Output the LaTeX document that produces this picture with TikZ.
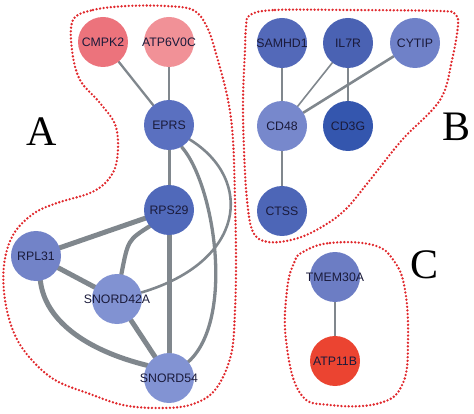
\documentclass[tikz,border=0pt]{standalone}
\usepackage{fontspec}
\setmainfont{Liberation Sans}
\newfontfamily\serifA{Liberation Serif}
\pgfdeclarelayer{bg}
\pgfsetlayers{bg,main}
\newcommand\gn[1]{\makebox[0pt][c]{#1}}
\definecolor{txt}{HTML}{1A1A3A}
\definecolor{edge}{HTML}{80878D}
\definecolor{dotred}{HTML}{E0282C}
\definecolor{cCMPK}{HTML}{EC737C}
\definecolor{cATPsix}{HTML}{F19197}
\definecolor{cEPRS}{HTML}{5A70C0}
\definecolor{cRPS}{HTML}{5069BA}
\definecolor{cRPL}{HTML}{7283C8}
\definecolor{cSNa}{HTML}{8192D2}
\definecolor{cSNb}{HTML}{8293D3}
\definecolor{cSAM}{HTML}{5369B9}
\definecolor{cIL}{HTML}{4A62B3}
\definecolor{cCYT}{HTML}{6F81C8}
\definecolor{cCD}{HTML}{7788CC}
\definecolor{cCDG}{HTML}{3456AE}
\definecolor{cCTS}{HTML}{4D66B7}
\definecolor{cTME}{HTML}{6C7DC4}
\definecolor{cATPb}{HTML}{EB4431}
\begin{document}
\begin{tikzpicture}[x=1pt,y=-1pt,
  gene/.style={circle,minimum size=50pt,inner sep=0pt,font=\fontsize{12.3}{14}\selectfont,text=txt},
  lnk/.style={draw=edge,line cap=round},
  zone/.style={draw=dotred,line width=2.6pt,line cap=round,dash pattern=on 0pt off 3.6pt},
  letter/.style={font=\serifA\fontsize{42}{42}\selectfont,text=black}]
\useasboundingbox (0,0) rectangle (474,414);
% nodes
\node[gene,fill=cCMPK] (cmpk) at (103,42) {\gn{CMPK2}};
\node[gene,fill=cATPsix] (atpsix) at (169,42) {\gn{ATP6V0C}};
\node[gene,fill=cEPRS] (eprs) at (169,125) {\gn{EPRS}};
\node[gene,fill=cRPS] (rps) at (169,210) {\gn{RPS29}};
\node[gene,fill=cRPL] (rpl) at (36,256) {\gn{RPL31}};
\node[gene,fill=cSNa] (sna) at (117,299) {\gn{SNORD42A}};
\node[gene,fill=cSNb] (snb) at (169,378) {\gn{SNORD54}};
\node[gene,fill=cSAM] (sam) at (282,43) {\gn{SAMHD1}};
\node[gene,fill=cIL] (il) at (348,43) {\gn{IL7R}};
\node[gene,fill=cCYT] (cyt) at (415,43) {\gn{CYTIP}};
\node[gene,fill=cCD] (cd) at (282,126) {\gn{CD48}};
\node[gene,fill=cCDG] (cdg) at (348,126) {\gn{CD3G}};
\node[gene,fill=cCTS] (cts) at (282,211) {\gn{CTSS}};
\node[gene,fill=cTME] (tme) at (335,277) {\gn{TMEM30A}};
\node[gene,fill=cATPb] (atpb) at (335,361) {\gn{ATP11B}};
% letters
\node[letter] (la) at (42,132) {A};
\node[letter] (lb) at (457,127) {B};
\node[letter] (lc) at (425,265) {C};
\begin{pgfonlayer}{bg}
% module A edges
\draw[lnk,line width=2.3pt] (cmpk) -- (eprs);
\draw[lnk,line width=2.3pt] (atpsix) -- (eprs);
\draw[lnk,line width=3pt] (eprs) -- (rps);
\draw[lnk,line width=3.3pt] (eprs.-60) .. controls (215,185) and (235,320) .. (snb.40);
\draw[lnk,line width=2.6pt] (eprs.-35) .. controls (255,180) and (245,262) .. (sna.15);
\draw[lnk,line width=5pt] (rps) -- (rpl);
\draw[lnk,line width=5pt] (rps) -- (snb);
\draw[lnk,line width=4.2pt] (rps.-140) .. controls (128,240) .. (sna.80);
\draw[lnk,line width=5pt] (rpl) -- (sna);
\draw[lnk,line width=5pt] (sna) -- (snb);
\draw[lnk,line width=5pt] (rpl.-80) .. controls (45,320) and (85,350) .. (snb.150);
% module B edges
\draw[lnk,line width=1.6pt] (sam) -- (cd);
\draw[lnk,line width=1.6pt] (il) -- (cd);
\draw[lnk,line width=2.6pt] (cyt) -- (cd);
\draw[lnk,line width=1.6pt] (il) -- (cdg);
\draw[lnk,line width=2.2pt] (cd) -- (cts);
% module C edge
\draw[lnk,line width=2.6pt] (tme) -- (atpb);
\end{pgfonlayer}
% module outlines
\draw[zone] plot[smooth cycle,tension=0.6] coordinates {
 (73,20) (93,10) (127,6) (165,6) (193,10) (207,27) (217,57) (228,100) (233,140)
 (235,200) (236,260) (235,310) (231,355) (215,390) (190,405) (157,408) (123,405)
 (90,394) (55,380) (30,358) (14,333) (5,300) (4,265) (13,235) (33,214) (57,203)
 (90,193) (108,180) (117,160) (116,127) (100,103) (80,80) (72,50)};
\draw[zone] plot[smooth cycle,tension=0.6] coordinates {
 (250,15) (275,10) (350,10) (440,11) (455,14) (458,25) (452,60) (440,100)
 (402,140) (370,180) (345,210) (320,228) (295,239) (268,242) (253,232)
 (247,200) (244,150) (243,100) (245,50) (246,27)};
\draw[zone] plot[smooth cycle,tension=0.7] coordinates {
 (303,252) (330,243) (373,245) (394,261) (405,290) (408,340) (403,383)
 (380,403) (330,405) (300,393) (286,340) (287,290) (294,263)};
\end{tikzpicture}
\end{document}
